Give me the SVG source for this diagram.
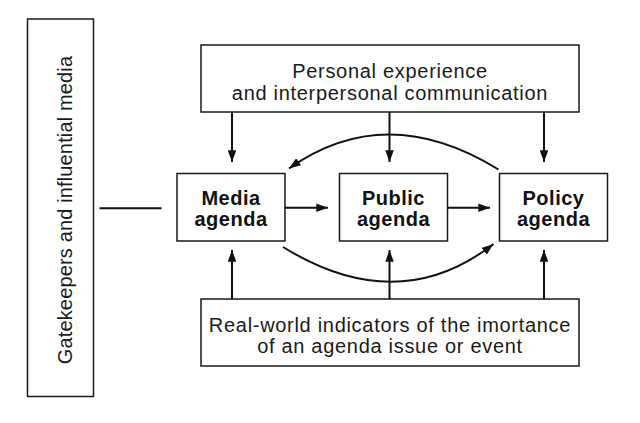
<svg xmlns="http://www.w3.org/2000/svg" width="640" height="423" viewBox="0 0 640 423">
<style>
.box{fill:#fff;stroke:#1a1a1a;stroke-width:1.5}
.t{font-family:"Liberation Sans",Arial,sans-serif;font-size:20px;fill:#1a1a1a;text-anchor:middle;letter-spacing:0.7px}
.b{font-family:"Liberation Sans",Arial,sans-serif;font-size:20px;font-weight:bold;fill:#111;text-anchor:middle;letter-spacing:0.5px}
.c{fill:none;stroke:#111;stroke-width:2}
</style>
<defs>
<marker id="ah" viewBox="0 0 11 8" refX="11" refY="4" markerWidth="12" markerHeight="8.5" markerUnits="userSpaceOnUse" orient="auto">
<path d="M0,0 L11,4 L0,8 z" fill="#111"/>
</marker>
</defs>
<rect width="640" height="423" fill="#fff"/>
<g id="gatekeepers">
<rect class="box" x="27.5" y="19" width="66" height="377.5"/>
<text class="t" style="letter-spacing:0.15px" transform="translate(71.5,210) rotate(-90)">Gatekeepers and influential media</text>
</g>
<g id="personal">
<rect class="box" x="201" y="45" width="378" height="67"/>
<text class="t" x="390" y="78.3">Personal experience</text>
<text class="t" x="390" y="100">and interpersonal communication</text>
</g>
<g id="media">
<rect class="box" x="177" y="173.5" width="108" height="67.5"/>
<text class="b" x="231" y="204.8">Media</text>
<text class="b" x="231" y="226.3">agenda</text>
</g>
<g id="public">
<rect class="box" x="339.5" y="173.5" width="108" height="67.5"/>
<text class="b" x="393.5" y="204.8">Public</text>
<text class="b" x="393.5" y="226.3">agenda</text>
</g>
<g id="policy">
<rect class="box" x="499.5" y="173.5" width="108" height="67.5"/>
<text class="b" x="553.5" y="204.8">Policy</text>
<text class="b" x="553.5" y="226.3">agenda</text>
</g>
<g id="realworld">
<rect class="box" x="201" y="299" width="378" height="67"/>
<text class="t" x="390" y="331.7">Real-world indicators of the imortance</text>
<text class="t" x="390" y="352.5">of an agenda issue or event</text>
</g>
<g id="connectors">
<line class="c" x1="99.5" y1="208.3" x2="161.5" y2="208.3"/>
<line class="c" x1="232" y1="112" x2="232" y2="162" marker-end="url(#ah)"/>
<line class="c" x1="389.5" y1="112" x2="389.5" y2="162" marker-end="url(#ah)"/>
<line class="c" x1="544" y1="112" x2="544" y2="162" marker-end="url(#ah)"/>
<line class="c" x1="232" y1="299" x2="232" y2="250" marker-end="url(#ah)"/>
<line class="c" x1="389.5" y1="299" x2="389.5" y2="250" marker-end="url(#ah)"/>
<line class="c" x1="544" y1="299" x2="544" y2="250" marker-end="url(#ah)"/>
<line class="c" x1="285" y1="207.7" x2="328" y2="207.7" marker-end="url(#ah)"/>
<line class="c" x1="447.5" y1="207.7" x2="490" y2="207.7" marker-end="url(#ah)"/>
<path class="c" d="M498.5,169.5 Q386,100 289,168.5" marker-end="url(#ah)"/>
<path class="c" d="M283,247 Q398,318 493.5,244" marker-end="url(#ah)"/>
</g>
</svg>
